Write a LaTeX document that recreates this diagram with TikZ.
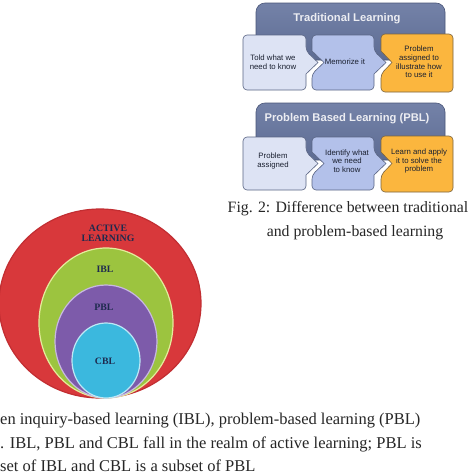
\documentclass[tikz,border=0pt]{standalone}
\usepackage{fontspec}
\setmainfont{Liberation Serif}
\setsansfont{Liberation Sans}
\definecolor{hdr}{HTML}{5D6C93}
\definecolor{hdrtop}{HTML}{7482A8}
\definecolor{hdrline}{HTML}{4A5679}
\definecolor{boxA}{HTML}{DDE3F4}
\definecolor{boxB}{HTML}{B3C1EA}
\definecolor{boxC}{HTML}{FBB63E}
\definecolor{boxline}{HTML}{5A6584}
\definecolor{boxCline}{HTML}{7A6440}
\definecolor{redE}{HTML}{D8383B}
\definecolor{redL}{HTML}{C22E32}
\definecolor{greenE}{HTML}{9CC43F}
\definecolor{greenL}{HTML}{E4EC9C}
\definecolor{purpleE}{HTML}{7D5BAA}
\definecolor{purpleL}{HTML}{C8B8E2}
\definecolor{cyanE}{HTML}{3BB8DE}
\definecolor{cyanL}{HTML}{BDE8F5}
\definecolor{navy}{HTML}{1E2A4E}
\definecolor{txtbox}{HTML}{1A2030}
\begin{document}
\begin{tikzpicture}[x=1pt,y=-1pt,
  header/.style={top color=hdrtop,bottom color=hdr,draw=hdrline,line width=0.6pt,rounded corners=9pt},
  hdrtext/.style={font=\sffamily\bfseries\fontsize{11.2}{12}\selectfont,text=white!88!hdr,inner sep=0pt},
  chev/.style={draw=boxline,line width=0.6pt,rounded corners=4pt},
  boxtext/.style={font=\sffamily\fontsize{7.8}{8.6}\selectfont,text=txtbox,align=center,inner sep=0pt},
  ell/.style={line width=1.2pt},
  elltext/.style={font=\bfseries\fontsize{9.8}{9.8}\selectfont,text=navy,align=center,inner sep=0pt},
  capt/.style={font=\fontsize{15.8}{18}\selectfont,text=black!85,inner sep=0pt},
  captb/.style={font=\fontsize{16.5}{18}\selectfont,text=black!85,inner sep=0pt}]
\useasboundingbox (0,0) rectangle (474,474);
\fill[white] (0,0) rectangle (474,474);

% ---------- Panel 1: Traditional Learning ----------
\draw[header] (256,3) rectangle (445,60);
\node[hdrtext] (t1) at (347,19) {Traditional Learning};
\draw[chev,fill=boxA] (243,35) -- (306,35) -- (306,51) [sharp corners] -- (318,62.5) -- (306,74) [rounded corners=4pt] -- (306,90) -- (243,90) -- cycle;
\draw[chev,fill=boxB] (312,35) -- (374,35) -- (374,51) [sharp corners] -- (386,62.5) -- (374,74) [rounded corners=4pt] -- (374,90) -- (312,90) -- (312,74) [sharp corners] -- (324,62.5) -- (312,51) [rounded corners=4pt] -- cycle;
\draw[chev,draw=boxCline,fill=boxC] (381,34) -- (453,34) -- (453,92) -- (381,92) -- (381,74) [sharp corners] -- (392,62.5) -- (381,51) [rounded corners=4pt] -- cycle;
\node[boxtext] (a1) at (273,62) {Told what we\\need to know};
\node[boxtext] (a2) at (345,62) {Memorize it};
\node[boxtext] (a3) at (419,62) {Problem\\assigned to\\illustrate how\\to use it};

% ---------- Panel 2: PBL ----------
\draw[header] (256,103) rectangle (445,160);
\node[hdrtext] (t2) at (347,119) {Problem Based Learning (PBL)};
\draw[chev,fill=boxA] (243,137) -- (306,137) -- (306,152) [sharp corners] -- (318,163.5) -- (306,175) [rounded corners=4pt] -- (306,190) -- (243,190) -- cycle;
\draw[chev,fill=boxB] (312,137) -- (374,137) -- (374,152) [sharp corners] -- (386,163.5) -- (374,175) [rounded corners=4pt] -- (374,190) -- (312,190) -- (312,175) [sharp corners] -- (324,163.5) -- (312,152) [rounded corners=4pt] -- cycle;
\draw[chev,draw=boxCline,fill=boxC] (381,136) -- (453,136) -- (453,192) -- (381,192) -- (381,175) [sharp corners] -- (392,163.5) -- (381,152) [rounded corners=4pt] -- cycle;
\node[boxtext] (b1) at (273,161) {Problem\\assigned};
\node[boxtext] (b2) at (347,161) {Identify what\\we need\\to know};
\node[boxtext] (b3) at (419,161) {Learn and apply\\it to solve the\\problem};

% ---------- Fig. 2 caption ----------
\node[capt] (c1) at (348,209) {Fig. 2: Difference between traditional};
\node[capt] (c2) at (355,233) {and problem-based learning};

% ---------- Nested ellipses ----------
\draw[ell,fill=redE,draw=redL] (100,303.5) ellipse [x radius=101,y radius=94.5];
\draw[ell,fill=greenE,draw=greenL] (106,323) ellipse [x radius=67,y radius=75];
\draw[ell,fill=purpleE,draw=purpleL] (106,341.5) ellipse [x radius=51,y radius=56.5];
\draw[ell,fill=cyanE,draw=cyanL] (106,360.5) ellipse [x radius=34,y radius=37.5];
\node[elltext] (al) at (108,233) {ACTIVE\\LEARNING};
\node[elltext] (ibl) at (105,269) {IBL};
\node[elltext] (pbl) at (104,307) {PBL};
\node[elltext] (cbl) at (105,361) {CBL};

% ---------- Bottom caption ----------
\node[captb,anchor=west] (d1) at (0,421) {en inquiry-based learning (IBL), problem-based learning (PBL)};
\node[captb,anchor=west] (d2) at (0,444) {. IBL, PBL and CBL fall in the realm of active learning; PBL is};
\node[captb,anchor=west] (d3) at (0,466) {set of IBL and CBL is a subset of PBL};
\end{tikzpicture}
\end{document}
